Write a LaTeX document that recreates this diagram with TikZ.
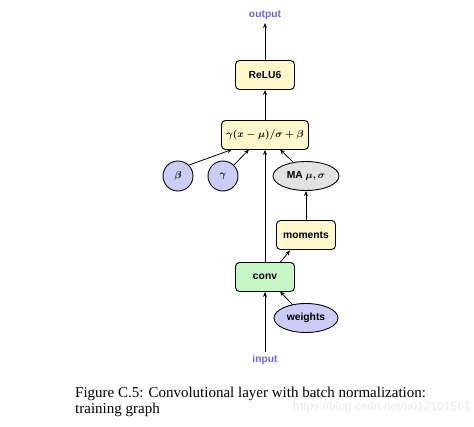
\documentclass[tikz,border=0pt]{standalone}
\usepackage{amsmath}
\usepackage{fontspec}
\setmainfont{Liberation Serif}
\setsansfont{Liberation Sans}
\usetikzlibrary{shapes.geometric,arrows.meta}
\definecolor{boxyellow}{HTML}{FFF8CC}
\definecolor{boxgreen}{HTML}{C6F5C6}
\definecolor{circblue}{HTML}{CCCCF8}
\definecolor{ellgray}{HTML}{E2E2E2}
\definecolor{iolabel}{HTML}{6A6AE0}
\definecolor{wmark}{HTML}{E8E8E8}
\newcommand{\bnformula}{$\boldsymbol{\gamma(x-\mu)/\sigma+\beta}$}
\newcommand{\mastats}{MA $\boldsymbol{\mu,\sigma}$}
\begin{document}
\begin{tikzpicture}[x=1pt,y=-1pt,
  every node/.style={font=\sffamily\bfseries\fontsize{10.3}{12}\selectfont},
  opbox/.style={draw, line width=0.9pt, rounded corners=4pt, minimum width=59pt, minimum height=29pt, inner sep=2pt},
  yelbox/.style={opbox, fill=boxyellow},
  grnbox/.style={opbox, fill=boxgreen},
  param/.style={draw, line width=0.9pt, circle, fill=circblue, minimum size=30pt, inner sep=0pt},
  ovalnode/.style={draw, line width=0.9pt, ellipse, minimum width=65pt, minimum height=29pt, inner sep=0pt},
  iolab/.style={text=iolabel},
  conn/.style={-{Stealth[length=5pt,width=4pt]}, line width=0.8pt}
]
\useasboundingbox (0,0) rectangle (474,426);
\node[iolab] (out) at (265,15) {output};
\node[yelbox] (relu) at (265,75) {ReLU6};
\node[yelbox, minimum width=87pt] (bn) at (265,135) {\bnformula};
\node[param] (beta) at (178,176) {$\boldsymbol{\beta}$};
\node[param] (gamma) at (223,176) {$\boldsymbol{\gamma}$};
\node[ovalnode, fill=ellgray, minimum width=66pt] (ma) at (306,176) {\mastats};
\node[yelbox] (mom) at (306,235) {moments};
\node[grnbox] (conv) at (265,277) {conv};
\node[ovalnode, fill=circblue, minimum width=64pt] (w) at (306,318) {weights};
\node[iolab] (in) at (265,360) {input};

\coordinate (bnA) at (232,149.5);
\coordinate (bnB) at (249,149.5);
\coordinate (bnC) at (280,149.5);
\coordinate (maT) at (293,162);
\coordinate (convT) at (280,262.5);
\coordinate (momB) at (290,250.5);
\coordinate (wT) at (293,305);
\coordinate (convB) at (280,291.5);

\draw[conn] (relu.north) -- (out.south);
\draw[conn] (bn.north) -- (relu.south);
\draw[conn] (beta.north east) -- (bnA);
\draw[conn] (gamma.north east) -- (bnB);
\draw[conn] (conv.north) -- (bn.south);
\draw[conn] (maT) -- (bnC);
\draw[conn] (mom.north) -- (ma.south);
\draw[conn] (convT) -- (momB);
\draw[conn] (wT) -- (convB);
\draw[conn] (in.north) -- (conv.south);

\node[font=\rmfamily\fontsize{15}{16}\selectfont, align=left, anchor=base west, inner sep=0pt] (cap) at (75,413) {Figure C.5: Convolutional layer with batch normalization:\\training graph};
\node[font=\sffamily\fontsize{12}{13}\selectfont, text=wmark, anchor=west, inner sep=0pt] (wm) at (293,407) {https://blog.csdn.net/u012101561};
\end{tikzpicture}
\end{document}
